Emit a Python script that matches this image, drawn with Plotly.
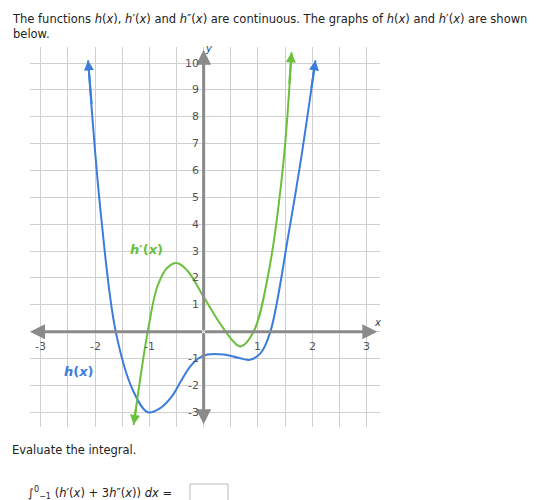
import plotly.graph_objects as go

# points
h_x = [-2.13, -1.9, -1.62, -1.3, -1.03, -0.8, -0.6, -0.42, -0.25, -0.1, 0.07, 0.37, 0.65, 0.85, 1.05, 1.23, 1.57, 1.8, 2.06]
h_y = [10.1, 4.5, 0.0, -2.2, -3.0, -2.85, -2.45, -1.85, -1.3, -1.0, -0.85, -0.85, -0.98, -1.05, -0.8, 0.0, 3.7, 6.5, 10.1]
dh_x = [-1.29, -1.12, -1.03, -0.85, -0.66, -0.48, -0.29, 0.0, 0.28, 0.55, 0.68, 0.92, 1.2, 1.47, 1.62]
dh_y = [-3.47, -1.1, 0.0, 1.7, 2.4, 2.55, 2.25, 1.3, 0.37, -0.37, -0.55, 0.0, 2.24, 6.3, 10.4]
x_ticks = [-3, -2, -1, 1, 2, 3]
y_ticks = [-3, -2, -1, 1, 2, 3, 4, 5, 6, 7, 8, 9, 10]

BLUE = "#3b7ddd"
GREEN = "#6abf3c"
GRAY = "#8a8a8a"
FONT = "DejaVu Sans"
H = 380

fig = go.Figure()


def curve(xs, ys, color):
    fig.add_trace(go.Scatter(x=xs, y=ys, mode="lines", line=dict(color=color, width=2, shape="spline"),
                             hoverinfo="skip", showlegend=False))
    for x0, y0, x1, y1 in [(xs[-2], ys[-2], xs[-1], ys[-1]), (xs[1], ys[1], xs[0], ys[0])]:
        fig.add_annotation(x=x1, y=y1, ax=x0 + (x1 - x0) * 0.7, ay=y0 + (y1 - y0) * 0.7,
                           xref="x", yref="y", axref="x", ayref="y", text="", showarrow=True,
                           arrowhead=2, arrowsize=1, arrowwidth=2, arrowcolor=color)


# axes with arrows
for x1, y1 in [(3.2, 0), (-3.2, 0), (0, 10.5), (0, -3.45)]:
    fig.add_annotation(x=x1, y=y1, ax=0, ay=0, xref="x", yref="y", axref="x", ayref="y", text="",
                       showarrow=True, arrowhead=2, arrowsize=1, arrowwidth=3, arrowcolor=GRAY)

curve(h_x, h_y, BLUE)
curve(dh_x, dh_y, GREEN)

for t in x_ticks:
    fig.add_annotation(x=t, y=-0.25, text=str(t), showarrow=False, yanchor="top",
                       font=dict(size=11, color="#555", family=FONT))
for t in y_ticks:
    fig.add_annotation(x=-0.05, y=t, text=str(t), showarrow=False, xanchor="right",
                       font=dict(size=11, color="#555", family=FONT))
fig.add_annotation(x=3.2, y=0.35, text="<i>x</i>", showarrow=False, font=dict(size=10, family=FONT))
fig.add_annotation(x=0.1, y=10.55, text="<i>y</i>", showarrow=False, font=dict(size=10, family=FONT))

fig.add_annotation(x=-1.05, y=3.05, text="<b><i>h</i>′(<i>x</i>)</b>", showarrow=False,
                   font=dict(size=13, color=GREEN, family=FONT))
fig.add_annotation(x=-2.3, y=-1.5, text="<b><i>h</i>(<i>x</i>)</b>", showarrow=False,
                   font=dict(size=13, color=BLUE, family=FONT))

# surrounding text
fig.add_annotation(xref="paper", yref="paper", x=-20 / 350, y=1 + 37 / H, xanchor="left", yanchor="top",
                   align="left", showarrow=False, font=dict(size=11.5, family=FONT, color="#222"),
                   text="The functions <i>h</i>(<i>x</i>), <i>h</i>′(<i>x</i>) and <i>h</i>″(<i>x</i>) are continuous. "
                        "The graphs of <i>h</i>(<i>x</i>) and <i>h</i>′(<i>x</i>) are shown<br>below.")
fig.add_annotation(xref="paper", yref="paper", x=-20 / 350, y=-14 / H, xanchor="left", yanchor="top",
                   showarrow=False, font=dict(size=11.5, family=FONT, color="#222"),
                   text="Evaluate the integral.")
fig.add_annotation(xref="paper", yref="paper", x=-4 / 350, y=-66 / H, xanchor="left", yanchor="middle",
                   showarrow=False, font=dict(size=11.5, family=FONT, color="#222"),
                   text="∫<sup>0</sup><sub>−1</sub> "
                        "(<i>h</i>′(<i>x</i>) + 3<i>h</i>″(<i>x</i>)) <i>dx</i> =")
fig.add_shape(type="rect", xref="paper", yref="paper", x0=160 / 350, x1=198 / 350,
              y0=-75 / H, y1=-57 / H, line=dict(color="#bbb", width=1))

fig.update_xaxes(range=[-3.2, 3.25], dtick=0.5, tick0=0, showgrid=True, gridcolor="#cfcfcf",
                 showticklabels=False, zeroline=False, fixedrange=True)
fig.update_yaxes(range=[-3.55, 10.6], dtick=1, tick0=0, showgrid=True, gridcolor="#cfcfcf",
                 showticklabels=False, zeroline=False, fixedrange=True)
fig.update_layout(width=556, height=500, margin=dict(l=22, r=184, t=39, b=81),
                  plot_bgcolor="white", paper_bgcolor="white")
fig.write_html("out.html")
